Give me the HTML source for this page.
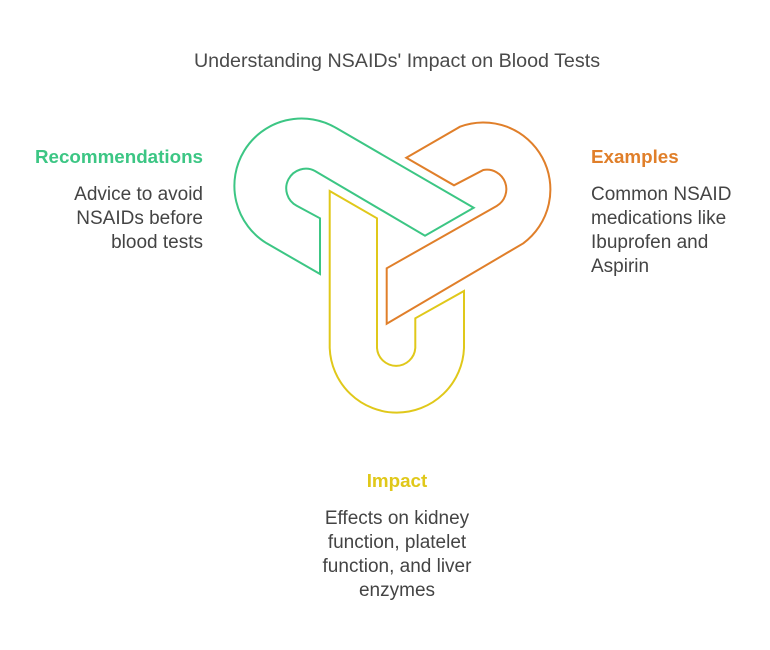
<!DOCTYPE html>
<html><head><style>
body{margin:0;background:#fff;width:770px;height:650px;overflow:hidden;font-family:"Liberation Sans",Arial,sans-serif}
.t{position:absolute;font-size:19px;color:#444;line-height:24px}
.h{position:absolute;font-size:18.8px;font-weight:bold}
</style></head><body>
<div class="t" style="left:0;width:794px;top:49px;text-align:center;color:#4a4a4a;font-size:19.7px">Understanding NSAIDs' Impact on Blood Tests</div>
<div class="h" style="right:567px;top:146px;color:#3cc684">Recommendations</div>
<div class="t" style="right:567px;top:183px;text-align:right">Advice to avoid<br>NSAIDs before<br>blood tests</div>
<div class="h" style="left:591px;top:146px;color:#e07f2a">Examples</div>
<div class="t" style="left:591px;top:183px">Common NSAID<br>medications like<br>Ibuprofen and<br>Aspirin</div>
<div class="h" style="left:0;width:794px;top:470px;text-align:center;color:#e0c81a">Impact</div>
<div class="t" style="left:0;width:794px;top:507px;text-align:center">Effects on kidney<br>function, platelet<br>function, and liver<br>enzymes</div>
<svg width="770" height="650" style="position:absolute;left:0;top:0" fill="none" stroke-width="2" stroke-linejoin="miter">
<path stroke="#3cc684" d="M320,274 L320,218.3 L296.7,205.7 A19.5,19.5 0 0 1 315,171 L425,235.7 L473.7,207.7 L336.7,128.3 A67,67 0 0 0 266.7,243.3 Z"/>
<path stroke="#e0c81a" d="M329.7,191 L377,218.3 L377,348 A19.2,19.2 0 0 0 415.3,348 L415.3,318.3 L464,291 L464,348 A67.2,67.2 0 0 1 329.7,348 Z"/>
<path stroke="#e07f2a" d="M386.7,323.7 L386.7,268.3 L496.7,206 A19.5,19.5 0 0 0 483.3,170 L454,185.3 L406.3,157.7 L460,126.7 A67,67 0 0 1 523.3,243.3 Z"/>
</svg>
</body></html>
